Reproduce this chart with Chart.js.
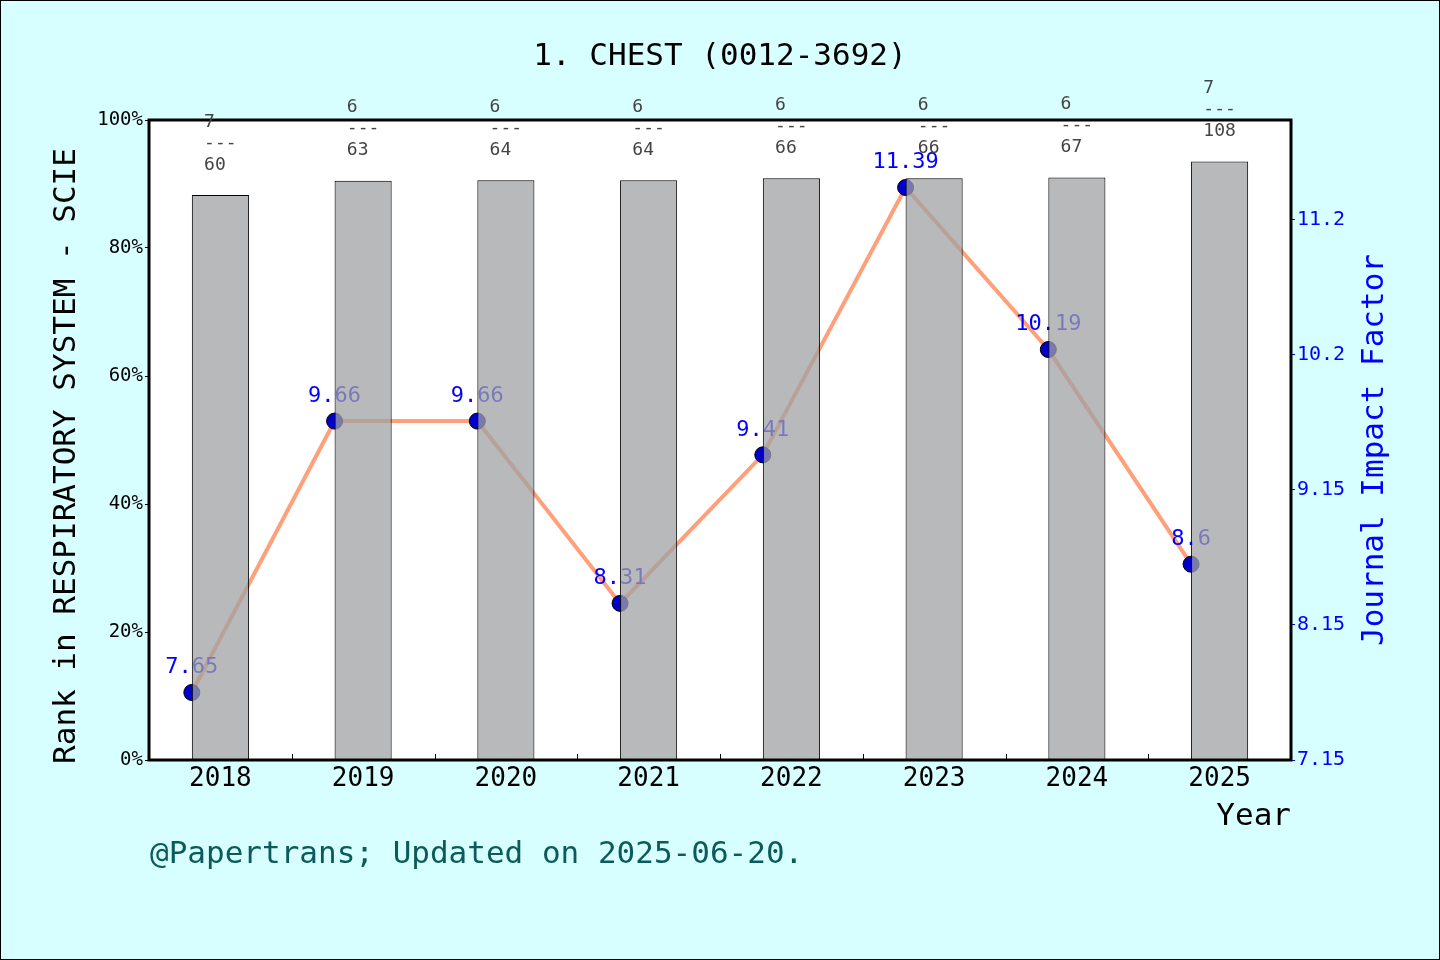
<!DOCTYPE html>
<html>
<head>
<meta charset="utf-8">
<title>CHEST (0012-3692)</title>
<script src="https://cdn.jsdelivr.net/npm/chart.js@4"></script>
<style>
  html, body { margin: 0; padding: 0; background: #d8ffff; }
  #wrap { width: 1440px; height: 960px; }
  canvas { display: block; }
</style>
</head>
<body>
<div id="wrap"><canvas id="rankChart" width="1440" height="960"></canvas></div>
<script>
// --- data ---
const years = [2018, 2019, 2020, 2021, 2022, 2023, 2024, 2025];
const rankPercent = [88.3, 90.5, 90.6, 90.6, 90.9, 90.9, 91.0, 93.5];
const rankInCategory = [7, 6, 6, 6, 6, 6, 6, 7];
const journalsInCategory = [60, 63, 64, 64, 66, 66, 67, 108];
const impactFactor = [7.65, 9.66, 9.66, 8.31, 9.41, 11.39, 10.19, 8.6];

const percentTicks = [0, 20, 40, 60, 80, 100];
const ifTicks = [7.15, 8.15, 9.15, 10.15, 11.15];
const ifTickLabels = ['7.15', '8.15', '9.15', '10.2', '11.2'];
const ifMin = 7.15;
const ifMax = 11.89;

const chartTitle = '1. CHEST (0012-3692)';
const leftTitle = 'Rank in RESPIRATORY SYSTEM - SCIE';
const rightTitle = 'Journal Impact Factor';
const xTitle = 'Year';
const footerText = '@Papertrans; Updated on 2025-06-20.';

const MONO = "'DejaVu Sans Mono', monospace";

// --- extra drawing: background, labels, frame, titles ---
const decorPlugin = {
    id: 'decor',
    beforeDraw(chart) {
        const c = chart.ctx, a = chart.chartArea;
        c.save();
        c.fillStyle = '#d8ffff';
        c.fillRect(0, 0, chart.width, chart.height);
        c.fillStyle = '#ffffff';
        c.fillRect(a.left, a.top, a.right - a.left, a.bottom - a.top);
        c.restore();
    },
    // IF labels go under the (semi transparent) bars
    afterDatasetDraw(chart, args) {
        if (args.index !== 1) return;
        const c = chart.ctx;
        c.save();
        c.font = `22px ${MONO}`;
        c.fillStyle = '#0000ff';
        c.textAlign = 'center';
        c.textBaseline = 'middle';
        args.meta.data.forEach((pt, i) => {
            c.fillText(String(impactFactor[i]), pt.x, pt.y - 25);
        });
        c.restore();
    },
    afterDraw(chart) {
        const c = chart.ctx, a = chart.chartArea;
        const xs = chart.scales.x;
        c.save();

        // minor ticks between years, pointing inward
        c.strokeStyle = '#000';
        c.lineWidth = 1;
        for (let i = 0; i < years.length - 1; i++) {
            const px = Math.round(xs.getPixelForValue((years[i] + years[i + 1]) / 2)) + 0.5;
            c.beginPath();
            c.moveTo(px, a.bottom);
            c.lineTo(px, a.bottom - 6);
            c.stroke();
        }

        // plot frame
        c.lineWidth = 3;
        c.strokeRect(a.left, a.top, a.right - a.left, a.bottom - a.top);

        // rank / total above each bar
        c.font = `18px ${MONO}`;
        c.fillStyle = '#444444';
        c.textAlign = 'left';
        c.textBaseline = 'middle';
        chart.getDatasetMeta(0).data.forEach((bar, i) => {
            const lines = [String(rankInCategory[i]), '---', String(journalsInCategory[i])];
            const w = Math.max(...lines.map(t => c.measureText(t).width));
            const left = bar.x - w / 2;
            c.fillText(lines[0], left, bar.y - 73);
            c.fillText(lines[1], left, bar.y - 52);
            c.fillText(lines[2], left, bar.y - 30);
        });

        // title
        c.font = `31px ${MONO}`;
        c.fillStyle = '#000';
        c.textAlign = 'center';
        c.fillText(chartTitle, 720, 57);

        // x axis title
        c.textAlign = 'right';
        c.fillText(xTitle, a.right, 817);

        // footer
        c.textAlign = 'left';
        c.fillStyle = '#0b5b5b';
        c.fillText(footerText, 150, 855);

        // left axis title
        c.save();
        c.translate(67, 456);
        c.rotate(-Math.PI / 2);
        c.textAlign = 'center';
        c.fillStyle = '#000';
        c.fillText(leftTitle, 0, 0);
        c.restore();

        // right axis title
        c.save();
        c.translate(1375, 450);
        c.rotate(-Math.PI / 2);
        c.textAlign = 'center';
        c.fillStyle = '#0000ff';
        c.fillText(rightTitle, 0, 0);
        c.restore();

        // outer figure edge
        c.lineWidth = 1;
        c.strokeStyle = '#000';
        c.strokeRect(0.5, 0.5, chart.width - 1, chart.height - 1);
        c.restore();
    }
};

const ctx = document.getElementById('rankChart').getContext('2d');

new Chart(ctx, {
    type: 'bar',
    data: {
        datasets: [
            {
                type: 'bar',
                label: 'Rank',
                data: years.map((y, i) => ({ x: y, y: rankPercent[i] })),
                xAxisID: 'x',
                yAxisID: 'y',
                backgroundColor: 'rgba(160, 161, 163, 0.75)',
                borderColor: '#000',
                borderWidth: 1,
                barPercentage: 0.4,
                categoryPercentage: 1,
                grouped: false,
                order: 0
            },
            {
                type: 'line',
                label: 'Impact Factor',
                data: years.map((y, i) => ({ x: y, y: impactFactor[i] })),
                xAxisID: 'xl',
                yAxisID: 'y1',
                borderColor: '#ffa07a',
                borderWidth: 4,
                tension: 0,
                pointRadius: 8,
                pointBackgroundColor: '#0000cd',
                pointBorderColor: '#000',
                pointBorderWidth: 1,
                clip: false,
                order: 1
            }
        ]
    },
    options: {
        responsive: false,
        animation: false,
        devicePixelRatio: 1,
        layout: { padding: { top: 120, left: 0, right: 0, bottom: 0 } },
        plugins: {
            legend: { display: false },
            title: { display: false },
            tooltip: { enabled: false }
        },
        events: [],
        scales: {
            x: {
                type: 'linear',
                position: 'bottom',
                min: 2017.5,
                max: 2025.5,
                offset: false,
                afterBuildTicks: s => { s.ticks = years.map(v => ({ value: v })); },
                afterFit: s => { s.height = 200; },
                grid: { display: false, drawTicks: false, offset: false },
                border: { display: false },
                ticks: {
                    callback: v => String(v),
                    font: { family: MONO, size: 26 },
                    color: '#000',
                    padding: 4,
                    maxRotation: 0,
                    autoSkip: false
                }
            },
            xl: {
                type: 'linear',
                display: false,
                offset: false,
                grid: { offset: false },
                min: 2017.7,
                max: 2025.7
            },
            y: {
                position: 'left',
                min: 0,
                max: 100,
                afterBuildTicks: s => { s.ticks = percentTicks.map(v => ({ value: v })); },
                afterFit: s => { s.width = 149; },
                grid: { drawOnChartArea: false, tickLength: 4, color: '#000' },
                border: { display: false },
                ticks: {
                    callback: v => v + '%',
                    font: { family: MONO, size: 19 },
                    color: '#000',
                    padding: 2
                }
            },
            y1: {
                position: 'right',
                min: ifMin,
                max: ifMax,
                afterBuildTicks: s => { s.ticks = ifTicks.map(v => ({ value: v })); },
                afterFit: s => { s.width = 149; },
                grid: { drawOnChartArea: false, tickLength: 4, color: '#0000ff' },
                border: { display: false },
                ticks: {
                    callback: (v, i) => ifTickLabels[i],
                    font: { family: MONO, size: 20 },
                    color: '#0000ff',
                    padding: 2
                }
            }
        }
    },
    plugins: [decorPlugin]
});
</script>
</body>
</html>
